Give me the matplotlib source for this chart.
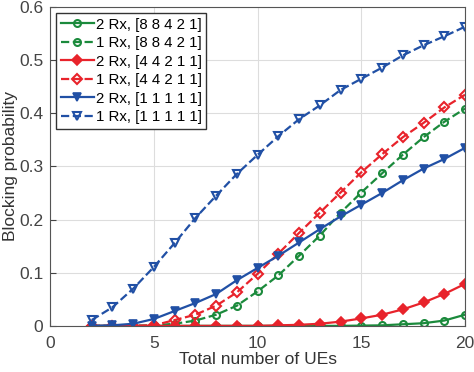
import numpy as np
import matplotlib
matplotlib.use("Agg")
import matplotlib.pyplot as plt

plt.rcParams['font.family'] = ['Liberation Sans', 'DejaVu Sans']

ues = list(range(2, 21))

# 2 Rx / 1 Rx for each allocation
g2 = [0, 0, 0, 0, 0, 0, 0, 0, 0, 0, 0, 0, 0, 0.0005, 0.001, 0.003, 0.005, 0.010, 0.021]
g1 = [0, 0, 0, 0.001, 0.004, 0.010, 0.021, 0.038, 0.065, 0.095, 0.132, 0.170, 0.213, 0.251, 0.287, 0.322, 0.355, 0.384, 0.409]
r2 = [0, 0, 0, 0, 0, 0, 0, 0, 0, 0.001, 0.002, 0.004, 0.008, 0.014, 0.021, 0.031, 0.044, 0.060, 0.079]
r1 = [0, 0, 0, 0.001, 0.011, 0.021, 0.038, 0.063, 0.098, 0.136, 0.175, 0.213, 0.251, 0.289, 0.323, 0.355, 0.382, 0.411, 0.435]
b2 = [0, 0.001, 0.004, 0.013, 0.028, 0.043, 0.060, 0.086, 0.109, 0.132, 0.157, 0.182, 0.206, 0.228, 0.250, 0.274, 0.296, 0.314, 0.335]
b1 = [0.011, 0.035, 0.070, 0.111, 0.156, 0.203, 0.245, 0.286, 0.322, 0.357, 0.389, 0.415, 0.444, 0.465, 0.486, 0.509, 0.528, 0.545, 0.563]

green = '#1b8a3c'
red = '#e8232b'
blue = '#2150a5'

fig = plt.figure(figsize=(4.74, 3.72), dpi=100)
ax = fig.add_axes([0.106, 0.124, 0.875, 0.857])

ax.plot(ues, g2, '-o', color=green, lw=1.6, ms=5, mfc='none', mew=1.5, label='2 Rx, [8 8 4 2 1]')
ax.plot(ues, g1, '--o', color=green, lw=1.6, ms=5, mfc='none', mew=1.5, label='1 Rx, [8 8 4 2 1]')
ax.plot(ues, r2, '-D', color=red, lw=1.6, ms=5, mfc=red, mew=1.2, label='2 Rx, [4 4 2 1 1]')
ax.plot(ues, r1, '--D', color=red, lw=1.6, ms=5, mfc='none', mew=1.5, label='1 Rx, [4 4 2 1 1]')
ax.plot(ues, b2, '-v', color=blue, lw=1.6, ms=6, mfc=blue, mew=1.2, label='2 Rx, [1 1 1 1 1]')
ax.plot(ues, b1, '--v', color=blue, lw=1.6, ms=6, mfc='none', mew=1.5, label='1 Rx, [1 1 1 1 1]')

ax.set_xlim(0, 20)
ax.set_ylim(0, 0.6)
ax.set_xticks([0, 5, 10, 15, 20])
ax.set_yticks(np.arange(0, 0.61, 0.1))
ax.set_yticklabels(['0', '0.1', '0.2', '0.3', '0.4', '0.5', '0.6'])
ax.grid(True, color='#dddddd', lw=0.8)
ax.set_axisbelow(True)
ax.tick_params(direction='in', colors='#444444', labelsize=12.5, length=4)
ax.tick_params(axis='x', pad=7)
ax.tick_params(axis='y', pad=5)
for s in ax.spines.values():
    s.set_color('#555555')
ax.set_xlabel('Total number of UEs', fontsize=12.5, color='#333333', labelpad=1)
ax.set_ylabel('Blocking probability', fontsize=12.5, color='#333333', labelpad=1)

leg = ax.legend(loc='upper left', fontsize=10.8, handlelength=2.2, handletextpad=0.15,
                borderpad=0.3, labelspacing=0.3, borderaxespad=0.4, fancybox=False,
                edgecolor='#333333', framealpha=1)
leg.get_frame().set_linewidth(1.0)

plt.savefig('out.png', dpi=100)
